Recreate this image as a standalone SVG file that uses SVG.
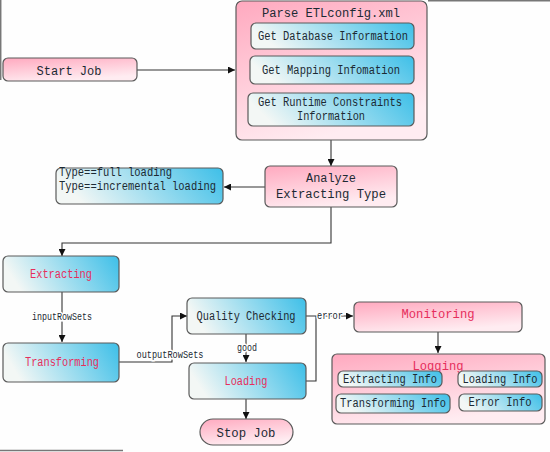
<svg xmlns="http://www.w3.org/2000/svg" width="550" height="452" viewBox="0 0 550 452">
<defs>
<linearGradient id="pink" x1="0" y1="0" x2="0.4" y2="1">
<stop offset="0" stop-color="#ffa9bf"/>
<stop offset="1" stop-color="#ffecf1"/>
</linearGradient>
<linearGradient id="blue" x1="0" y1="0.2" x2="1" y2="0">
<stop offset="0" stop-color="#f3f7f5"/>
<stop offset="1" stop-color="#3dbfe8"/>
</linearGradient>
<marker id="arr" viewBox="0 0 10 10" refX="10" refY="5" markerWidth="7" markerHeight="7" orient="auto" markerUnits="userSpaceOnUse">
<path d="M0,0 L10,5 L0,10 z" fill="#111"/>
</marker>
</defs>
<style>
.p{fill:url(#pink);stroke:#5a5a5a;stroke-width:1.2}
.b{fill:url(#blue);stroke:#5a5a5a;stroke-width:1.2}
text{font-family:"Liberation Mono","DejaVu Sans Mono",monospace;font-size:12px;fill:#1c2a33;text-anchor:middle}
.r{fill:#e62e5c}
.lab{font-size:10px;paint-order:stroke;stroke:#fff;stroke-width:3px}
.c{fill:none;stroke:#333;stroke-width:1.1}
.ca{fill:none;stroke:#333;stroke-width:1.1;marker-end:url(#arr)}
.frame{stroke:#777;stroke-width:1.5}
</style>
<rect width="550" height="452" fill="#fefefe"/>
<g id="frame">
<line class="frame" x1="0.7" y1="0" x2="0.7" y2="80"/>
<line class="frame" x1="428" y1="0.7" x2="550" y2="0.7"/>
<line class="frame" x1="0" y1="450.5" x2="123" y2="450.5"/>
</g>
<g id="connectors">
<path class="ca" d="M137,70 H235"/>
<path class="ca" d="M331,140 V166"/>
<path class="ca" d="M265,187 H224"/>
<path class="ca" d="M331,207 V243 H62 V256"/>
<path class="ca" d="M62,292 V342"/>
<path class="ca" d="M119,362 H172 V316 H187"/>
<path class="ca" d="M246,334 V362"/>
<path class="ca" d="M246,399 V419"/>
<path class="ca" d="M306,316 H353"/>
<path class="c" d="M306,381 H316 V316"/>
<path class="ca" d="M438,332 V353"/>
<text class="lab" x="62" y="320" textLength="60" lengthAdjust="spacingAndGlyphs">inputRowSets</text>
<text class="lab" x="170" y="358" textLength="67" lengthAdjust="spacingAndGlyphs">outputRowSets</text>
<text class="lab" x="247" y="351" textLength="20" lengthAdjust="spacingAndGlyphs">good</text>
<text class="lab" x="330" y="319" textLength="26" lengthAdjust="spacingAndGlyphs">error</text>
</g>
<g id="start">
<rect class="p" x="3" y="58" width="134" height="23" rx="5"/>
<text x="69" y="75" textLength="65" lengthAdjust="spacingAndGlyphs" font-size="14">Start Job</text>
</g>
<g id="parse">
<rect class="p" x="236" y="1" width="191" height="139" rx="6"/>
<text x="331" y="17" textLength="138" lengthAdjust="spacingAndGlyphs" font-size="14">Parse ETLconfig.xml</text>
</g>
<g id="getdb">
<rect class="b" x="251" y="23" width="163" height="26" rx="5"/>
<text x="333" y="40" textLength="150" lengthAdjust="spacingAndGlyphs">Get Database Information</text>
</g>
<g id="getmap">
<rect class="b" x="250" y="56" width="164" height="28" rx="5"/>
<text x="331" y="74" textLength="138" lengthAdjust="spacingAndGlyphs">Get Mapping Infomation</text>
</g>
<g id="getrun">
<rect class="b" x="248" y="93" width="166" height="33" rx="5"/>
<text x="330" y="106" textLength="144" lengthAdjust="spacingAndGlyphs">Get Runtime Constraints</text>
<text x="331" y="120" textLength="68" lengthAdjust="spacingAndGlyphs">Information</text>
</g>
<g id="analyze">
<rect class="p" x="265" y="166" width="132" height="41" rx="5"/>
<text x="331" y="182" textLength="50" lengthAdjust="spacingAndGlyphs" font-size="14">Analyze</text>
<text x="331" y="198" textLength="110" lengthAdjust="spacingAndGlyphs" font-size="14">Extracting Type</text>
</g>
<g id="type">
<rect class="b" x="56" y="168" width="167" height="36" rx="5"/>
<text x="59" y="176" textLength="113" lengthAdjust="spacingAndGlyphs" style="text-anchor:start">Type==full loading</text>
<text x="59" y="190" textLength="157" lengthAdjust="spacingAndGlyphs" style="text-anchor:start">Type==incremental loading</text>
</g>
<g id="extracting">
<rect class="b" x="3" y="256" width="116" height="36" rx="5"/>
<text class="r" x="61" y="278" textLength="62" lengthAdjust="spacingAndGlyphs">Extracting</text>
</g>
<g id="transforming">
<rect class="b" x="3" y="343" width="116" height="39" rx="5"/>
<text class="r" x="62" y="366" textLength="74" lengthAdjust="spacingAndGlyphs">Transforming</text>
</g>
<g id="quality">
<rect class="b" x="187" y="298" width="119" height="36" rx="5"/>
<text x="246" y="320" textLength="99" lengthAdjust="spacingAndGlyphs">Quality Checking</text>
</g>
<g id="loading">
<rect class="b" x="189" y="363" width="117" height="36" rx="5"/>
<text class="r" x="246" y="385" textLength="43" lengthAdjust="spacingAndGlyphs">Loading</text>
</g>
<g id="stop">
<rect class="p" x="200" y="419" width="93" height="26" rx="13"/>
<text x="246" y="437" textLength="59" lengthAdjust="spacingAndGlyphs" font-size="15">Stop Job</text>
</g>
<g id="monitoring">
<rect class="p" x="354" y="302" width="168" height="30" rx="5"/>
<text class="r" x="438" y="318" textLength="73" lengthAdjust="spacingAndGlyphs" font-size="14">Monitoring</text>
</g>
<g id="logging">
<rect class="p" x="332" y="354" width="213" height="70" rx="5"/>
<text class="r" x="438" y="370" textLength="51" lengthAdjust="spacingAndGlyphs" font-size="15">Logging</text>
</g>
<g id="extinfo">
<rect class="b" x="338" y="371" width="104" height="16" rx="5"/>
<text x="390" y="383" textLength="94" lengthAdjust="spacingAndGlyphs">Extracting Info</text>
</g>
<g id="loadinfo">
<rect class="b" x="458" y="371" width="84" height="16" rx="5"/>
<text x="500" y="383" textLength="75" lengthAdjust="spacingAndGlyphs">Loading Info</text>
</g>
<g id="transinfo">
<rect class="b" x="336" y="394" width="114" height="19" rx="5"/>
<text x="393" y="407" textLength="106" lengthAdjust="spacingAndGlyphs">Transforming Info</text>
</g>
<g id="errinfo">
<rect class="b" x="459" y="394" width="83" height="17" rx="5"/>
<text x="500" y="406" textLength="63" lengthAdjust="spacingAndGlyphs">Error Info</text>
</g>
</svg>
